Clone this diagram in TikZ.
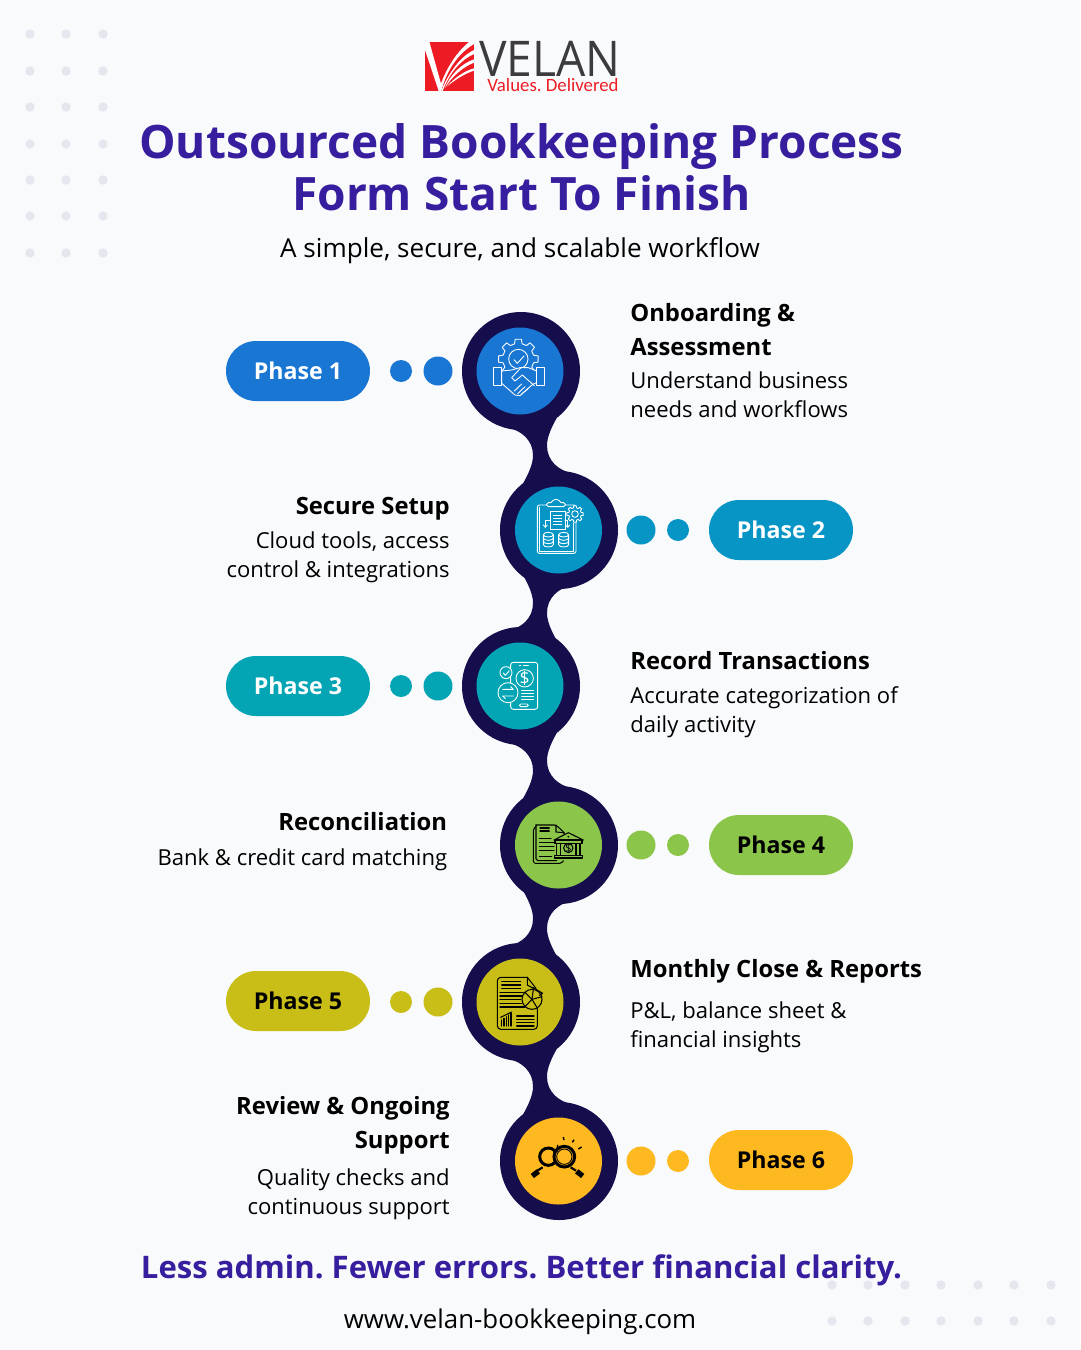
\documentclass[tikz,border=0pt]{standalone}
\usepackage{fontspec}
\setmainfont{Open Sans}
\newfontfamily\logofont{Carlito}
\usetikzlibrary{positioning}
\definecolor{pagebg}{HTML}{F9FAFC}
\definecolor{griddot}{HTML}{E6E7EE}
\definecolor{spine}{HTML}{150D4C}
\definecolor{titleblue}{HTML}{371E9E}
\definecolor{logored}{HTML}{ED1C24}
\definecolor{logogrey}{HTML}{3C3C3E}
\definecolor{phaseA}{HTML}{1976D2}
\definecolor{phaseB}{HTML}{0795C6}
\definecolor{phaseC}{HTML}{03A5B5}
\definecolor{phaseD}{HTML}{8BC64B}
\definecolor{phaseE}{HTML}{C9BE17}
\definecolor{phaseF}{HTML}{FFB920}
\newlength{\pxu}
\setlength{\pxu}{0.02cm}
\tikzset{
  griddisc/.style={fill=griddot, draw=none},
  hub/.style={circle, fill=spine, minimum size=118\pxu, inner sep=0pt},
  core/.style={circle, minimum size=87\pxu, inner sep=0pt},
  pill/.style={rounded corners=30\pxu, minimum width=144\pxu, minimum height=60\pxu, inner sep=0pt, font=\fontsize{13.2}{16}\selectfont\bfseries},
  smalldot/.style={circle, minimum size=22\pxu, inner sep=0pt},
  largedot/.style={circle, minimum size=29\pxu, inner sep=0pt},
  head/.style={font=\fontsize{13.55}{18.8}\selectfont\bfseries, inner sep=0pt},
  body/.style={font=\fontsize{12.55}{16.5}\selectfont, inner sep=0pt},
  neck/.pic={\fill[spine] (-33,-23) .. controls (-18,-20) and (-7,-10) .. (-7,5) .. controls (-7,14) and (-12,24) .. (-17,33) -- (33,23) .. controls (18,20) and (7,10) .. (7,-5) .. controls (7,-14) and (12,-24) .. (17,-33) -- cycle;},
  iconw/.style={draw=white, line width=0.5pt, line join=round, line cap=round},
  iconk/.style={draw=black, line width=0.6pt, line join=round, line cap=round},
}
% toothed wheel at centre #2, root radius #3, tip radius #4
\newcommand{\cogwheel}[4]{%
  \draw[#1, shift={#2}] (-14:#3)
    \foreach \a in {0,45,...,315} {
      -- ({\a-14}:#3) -- ({\a-9}:#4) -- ({\a+9}:#4) -- ({\a+14}:#3)
    } -- cycle;
}
\frenchspacing
\begin{document}
\begin{tikzpicture}[x=0.02cm, y=-0.02cm]
\fill[pagebg] (0,0) rectangle (1080,1350);
\useasboundingbox (0,0) rectangle (1080,1350);

% background dots
\foreach \x in {30,66,103} \foreach \y in {34,71,107,144,180,216,253}
  \fill[griddisc] (\x,\y) circle (4.7);
\foreach \x in {832,868,905,941,978,1014,1051} \foreach \y in {1285,1321}
  \fill[griddisc] (\x,\y) circle (4.7);

% logo
\begin{scope}[shift={(400,20)}, scale=1/3]
\fill[logored] (75,65) rectangle (222,213);
\fill[white] (75,65) -- (88,65) -- (124,195) -- (116,213) -- (75,90) -- cycle;
\fill[white] (208,65) -- (222,65) -- (222,72) .. controls (175,100) and (140,150) .. (124,213) -- (116,213) .. controls (130,160) and (165,100) .. (208,65) -- cycle;
\fill[white] (222,90) -- (222,102) .. controls (185,118) and (150,155) .. (128,213) -- (124,213) .. controls (145,160) and (180,110) .. (222,90) -- cycle;
\fill[white] (222,118) -- (222,128) .. controls (190,140) and (155,170) .. (134,205) .. controls (150,165) and (185,130) .. (222,118) -- cycle;
\fill[white] (222,145) -- (222,152) .. controls (195,160) and (165,180) .. (140,200) .. controls (165,172) and (195,152) .. (222,145) -- cycle;
\end{scope}
\node[anchor=base west, inner sep=0pt, text=logogrey, font=\fontsize{28}{30}\selectfont, xscale=0.94, transform shape] (logoname) at (479,76.5) {VELAN};
\node[anchor=base west, inner sep=0pt, text=logored, font=\logofont\fontsize{10.7}{13}\selectfont] (logotag) at (487,91) {Values. Delivered};

% title
\node[anchor=base, align=center, text=titleblue, inner sep=0pt, font=\fontsize{26.2}{29.6}\selectfont\bfseries] (title) at (521.5,210) {Outsourced Bookkeeping Process\\Form Start To Finish};
\node[anchor=base, inner sep=0pt, font=\fontsize{14.85}{18}\selectfont] (subtitle) at (520,257) {A simple, secure, and scalable workflow};

% spine
\pic at (540,450.5) {neck};
\pic[xscale=-1] at (540,608) {neck};
\pic at (540,765.5) {neck};
\pic[xscale=-1] at (540,923.5) {neck};
\pic at (540,1081.5) {neck};
\node[hub] (hubA) at (521,371) {};
\node[hub] (hubB) at (559,530) {};
\node[hub] (hubC) at (521,686) {};
\node[hub] (hubD) at (559,845) {};
\node[hub] (hubE) at (521,1002) {};
\node[hub] (hubF) at (559,1161) {};
\node[core, fill=phaseA] (coreA) at (520,371) {};
\node[core, fill=phaseB] (coreB) at (558.5,530) {};
\node[core, fill=phaseC] (coreC) at (520,686) {};
\node[core, fill=phaseD] (coreD) at (558.5,845) {};
\node[core, fill=phaseE] (coreE) at (520,1002) {};
\node[core, fill=phaseF] (coreF) at (558.5,1161) {};

% phases
\node[pill, fill=phaseA, text=white] (pillA) at (298,371) {Phase 1};
\node[smalldot, fill=phaseA] (dotAa) at (401,371) {};
\node[largedot, fill=phaseA] (dotAb) at (438,371) {};
\node[pill, fill=phaseB, text=white] (pillB) at (781,530) {Phase 2};
\node[largedot, fill=phaseB] (dotBa) at (641,530) {};
\node[smalldot, fill=phaseB] (dotBb) at (678,530) {};
\node[pill, fill=phaseC, text=white] (pillC) at (298,686) {Phase 3};
\node[smalldot, fill=phaseC] (dotCa) at (401,686) {};
\node[largedot, fill=phaseC] (dotCb) at (438,686) {};
\node[pill, fill=phaseD] (pillD) at (781,845) {Phase 4};
\node[largedot, fill=phaseD] (dotDa) at (641,845) {};
\node[smalldot, fill=phaseD] (dotDb) at (678,845) {};
\node[pill, fill=phaseE] (pillE) at (298,1001) {Phase 5};
\node[smalldot, fill=phaseE] (dotEa) at (401,1002) {};
\node[largedot, fill=phaseE] (dotEb) at (438,1002) {};
\node[pill, fill=phaseF] (pillF) at (781,1160) {Phase 6};
\node[largedot, fill=phaseF] (dotFa) at (641,1161) {};
\node[smalldot, fill=phaseF] (dotFb) at (678,1161) {};

% descriptions
\node[head, anchor=base west, align=left] (headA) at (630,355) {Onboarding \&\\Assessment};
\node[body, anchor=base west, align=left] (bodyA) at (630,417.5) {Understand business\\needs and workflows};
\node[head, anchor=base east, align=right] (headB) at (450,514) {Secure Setup};
\node[body, anchor=base east, align=right] (bodyB) at (450,577) {Cloud tools, access\\control \& integrations};
\node[head, anchor=base west, align=left] (headC) at (630,669) {Record Transactions};
\node[body, anchor=base west, align=left] (bodyC) at (630,732.5) {Accurate categorization of\\daily activity};
\node[head, anchor=base east, align=right] (headD) at (447.5,830) {Reconciliation};
\node[body, anchor=base east, align=right] (bodyD) at (447.5,865) {Bank \& credit card matching};
\node[head, anchor=base west, align=left] (headE) at (630,977) {Monthly Close \& Reports};
\node[body, anchor=base west, align=left] (bodyE) at (630,1047.5) {P\&L, balance sheet \&\\financial insights};
\node[head, anchor=base east, align=right] (headF) at (450,1148) {Review \& Ongoing\\Support};
\node[body, anchor=base east, align=right] (bodyF) at (450,1214.5) {Quality checks and\\continuous support};

% footer
\node[anchor=base, inner sep=0pt, text=titleblue, font=\fontsize{17.7}{22}\selectfont\bfseries] (closing) at (521.5,1278) {Less admin. Fewer errors. Better financial clarity.};
\node[anchor=base, inner sep=0pt, font=\fontsize{14.7}{18}\selectfont] (website) at (520,1328) {www.velan-bookkeeping.com};

% icon 1
\begin{scope}[shift={(485,335)}, scale=1/3]
\cogwheel{iconw}{(100,72)}{47}{60}
\draw[iconw] (100,72) circle (29);
\draw[iconw] (87,74) -- (97,85) -- (117,63);
\draw[iconw, fill=phaseA] (50,108) -- (80,105) -- (105,98) -- (130,98) -- (155,108) -- (155,143) -- (143,148) -- (105,182) -- (90,180) -- (50,145) -- cycle;
\draw[iconw, fill=phaseA] (25,98) rectangle (50,150);
\draw[iconw, fill=phaseA] (155,98) rectangle (178,150);
\draw[iconw] (108,98) -- (80,128) -- (90,138) -- (112,120) -- (148,152);
\draw[iconw] (88,168) -- (110,147);
\draw[iconw] (98,176) -- (120,155);
\draw[iconw] (110,177) -- (130,160);
\end{scope}

% icon 2
\begin{scope}[shift={(450,310)}, scale=1/3]
\draw[iconw, rounded corners=1.2pt] (262,585) rectangle (378,730);
\draw[iconw] (269,592) -- (269,723) -- (371,723) -- (371,640);
\draw[iconw, fill=phaseB, rounded corners=1pt] (290,578) -- (308,578) arc (180:360:10) -- (346,578) -- (346,590) -- (290,590) -- cycle;
\cogwheel{iconw, fill=phaseB}{(375,612)}{19}{25}
\draw[iconw] (375,612) circle (10);
\draw[iconw] (300,605) rectangle (345,657);
\draw[iconw] (310,617) -- (335,617);
\draw[iconw] (310,626) -- (335,626);
\draw[iconw] (310,635) -- (335,635);
\draw[iconw] (310,644) -- (335,644);
\draw[iconw] (300,632) -- (286,632) -- (286,650);
\draw[iconw] (280,645) -- (286,652) -- (292,645);
\draw[iconw] (345,632) -- (353,632) -- (353,650);
\draw[iconw] (347,645) -- (353,652) -- (359,645);
\draw[iconw] (295,674) ellipse (15 and 7);
\draw[iconw] (280,674) -- (280,704) arc (180:0:15 and 7) -- (310,674);
\draw[iconw] (280,684) arc (180:0:15 and 7);
\draw[iconw] (280,694) arc (180:0:15 and 7);
\draw[iconw] (341,674) ellipse (15 and 7);
\draw[iconw] (326,674) -- (326,704) arc (180:0:15 and 7) -- (356,674);
\draw[iconw] (326,684) arc (180:0:15 and 7);
\draw[iconw] (326,694) arc (180:0:15 and 7);
\end{scope}

% icon 3
\begin{scope}[shift={(450,630)}, scale=1/3]
\draw[iconw, rounded corners=1.5pt] (182,97) rectangle (263,238);
\draw[iconw, fill=phaseC] (168,128) circle (18);
\draw[iconw] (160,129) -- (166,136) -- (178,122);
\draw[iconw, fill=phaseC] (174,188) circle (30);
\draw[iconw] (158,178) -- (190,178) -- (182,170);
\draw[iconw] (190,198) -- (158,198) -- (166,206);
\draw[iconw, fill=phaseC] (224,145) circle (26);
\node[text=white, inner sep=0pt, font=\fontsize{10}{10}\selectfont] (dollarC) at (224,146) {\$};
\draw[iconw] (208,105) -- (212,105);
\draw[iconw] (220,105) -- (235,105);
\draw[iconw] (215,182) -- (250,182);
\draw[iconw] (215,191) -- (250,191);
\draw[iconw] (215,200) -- (250,200);
\draw[iconw] (215,209) -- (250,209);
\draw[iconw, rounded corners=0.8pt] (208,222) rectangle (235,230);
\end{scope}

% icon 4
\begin{scope}[shift={(450,630)}, scale=1/3]
\draw[iconk, rounded corners=1pt] (258,585) -- (318,585) -- (343,608) -- (343,625);
\draw[iconk, rounded corners=1pt] (258,585) -- (258,692) -- (320,692);
\draw[iconk, rounded corners=1pt] (258,590) -- (250,596) -- (250,700) -- (335,700) -- (340,692);
\draw[iconk] (318,585) -- (318,606) -- (343,608);
\draw[iconk] (270,594) -- (298,594);
\draw[iconk] (270,603) -- (298,603);
\draw[iconk] (268,626) -- (303,626);
\draw[iconk] (268,638) -- (312,638);
\draw[iconk] (268,650) -- (312,650);
\draw[iconk] (268,662) -- (312,662);
\draw[iconk] (268,680) -- (305,680);
\draw[iconk, fill=phaseD] (312,630) -- (355,608) -- (400,630) -- cycle;
\draw[iconk, fill=phaseD] (315,630) rectangle (396,640);
\draw[iconk, fill=phaseD] (320,640) rectangle (332,677);
\draw[iconk, fill=phaseD] (378,640) rectangle (390,677);
\draw[iconk, fill=phaseD] (314,677) rectangle (398,684);
\draw[iconk] (355,654) circle (14);
\node[inner sep=0pt, font=\fontsize{6.5}{7}\selectfont] (dollarD) at (355,654) {\$};
\fill (355,620) circle (3);
\end{scope}

% icon 5
\begin{scope}[shift={(450,940)}, scale=1/3]
\draw[iconk, rounded corners=2pt] (232,112) -- (142,112) -- (142,268) -- (262,268) -- (262,205);
\draw[iconk] (232,112) -- (232,135) -- (250,145);
\draw[iconk] (232,112) -- (258,145);
\draw[iconk] (155,125) -- (212,125);
\draw[iconk] (155,135) -- (212,135);
\draw[iconk] (155,146) -- (212,146);
\draw[iconk] (150,157) -- (220,157);
\draw[iconk] (150,168) -- (215,168);
\draw[iconk] (150,179) -- (212,179);
\draw[iconk] (150,190) -- (215,190);
\draw[iconk] (150,201) -- (225,201);
\draw[iconk] (200,228) -- (252,228);
\draw[iconk] (200,238) -- (252,238);
\draw[iconk] (200,248) -- (252,248);
\draw[iconk] (200,258) -- (252,258);
\draw[iconk, fill=phaseE] (246,178) circle (30);
\draw[iconk] (246,178) -- (250,148);
\draw[iconk] (246,178) -- (276,170);
\draw[iconk] (246,178) -- (225,157);
\draw[iconk] (246,178) -- (225,200);
\draw[iconk] (246,178) -- (262,204);
\draw[iconk] (248,142) -- (278,160) -- (268,166);
\draw[iconk] (155,240) -- (155,258);
\draw[iconk] (162,235) -- (162,258);
\draw[iconk] (169,230) -- (169,258);
\draw[iconk] (176,225) -- (176,258);
\draw[iconk] (183,220) -- (183,258);
\draw[iconk] (152,232) -- (185,216);
\end{scope}

% icon 6
\begin{scope}[shift={(450,940)}, scale=1/3]
\draw[line width=1.7pt] (295,650) circle (26);
\draw[line width=1.7pt, fill=phaseF] (343,650) circle (31);
\draw[line width=0.5pt] (343,650) circle (23);
\draw[line width=0.6pt] (322,635) arc (160:210:25);
\draw[line width=1.2pt] (278,682) -- (262,692);
\draw[line width=1.2pt] (362,682) -- (378,692);
\draw[line width=3pt] (247,708) -- (265,694);
\draw[line width=3pt] (380,694) -- (398,708);
\draw[line width=0.8pt] (340,591) -- (342,600);
\draw[line width=0.8pt] (372,599) -- (367,607);
\draw[line width=0.8pt] (395,621) -- (385,627);
\end{scope}
\end{tikzpicture}
\end{document}
